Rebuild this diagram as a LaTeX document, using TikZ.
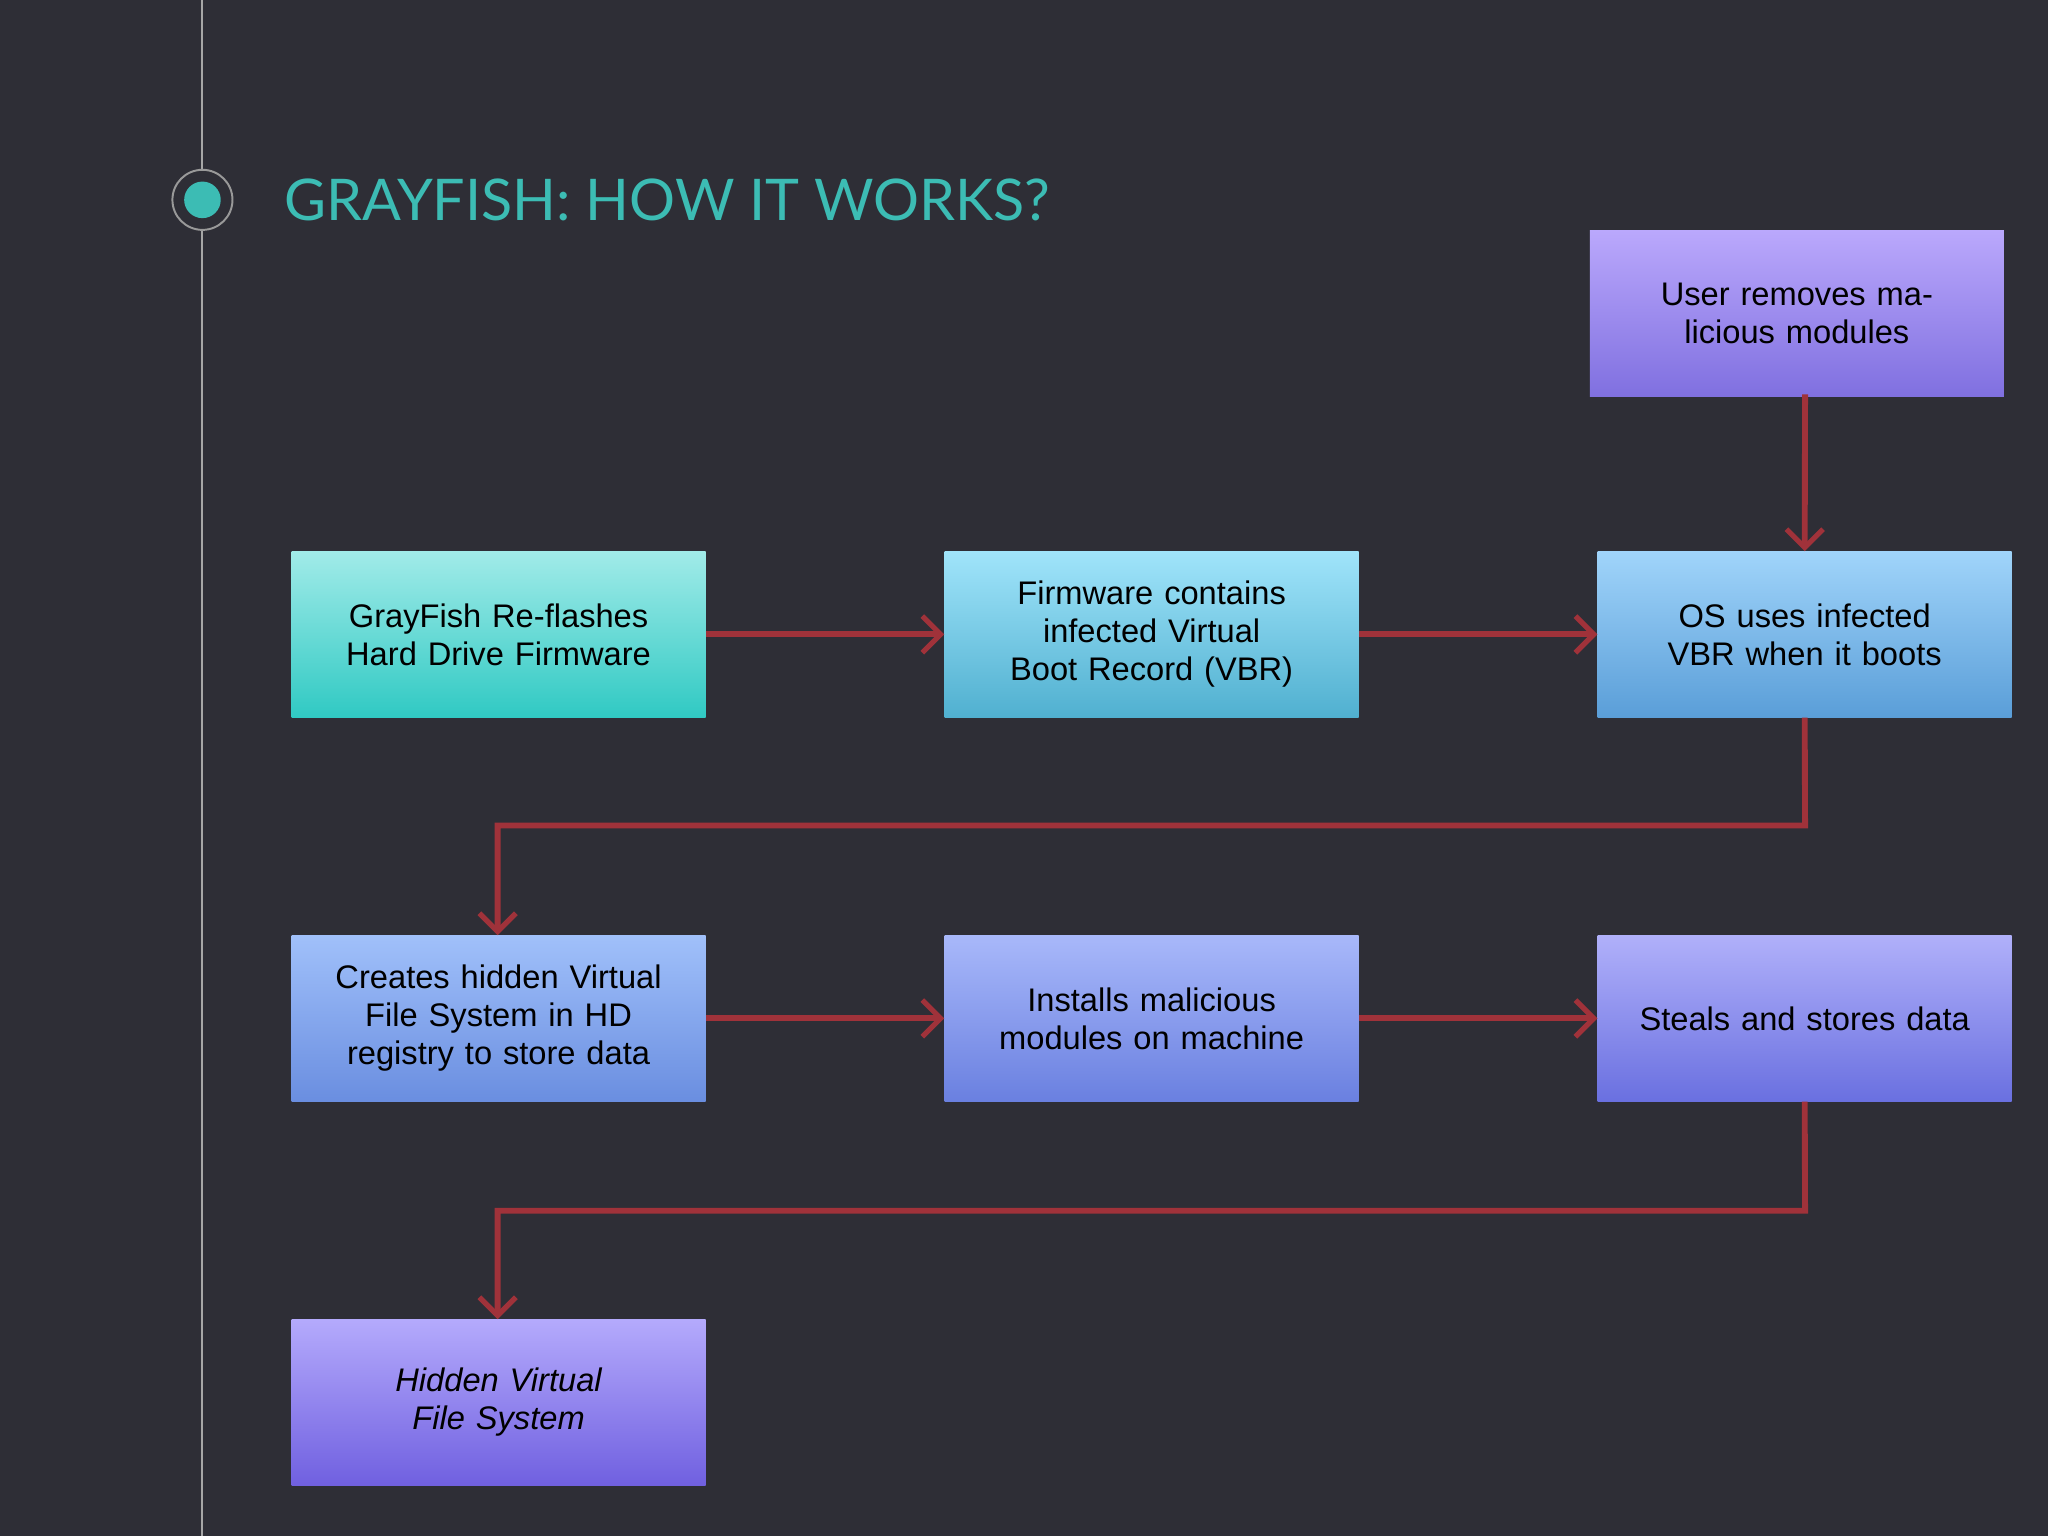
\documentclass[tikz,border=0pt]{standalone}
\usepackage{fontspec}
\setmainfont{Liberation Sans}
\newfontfamily\titlefont{Lato}
\usetikzlibrary{arrows.meta}
\definecolor{bg}{HTML}{2E2E36}
\definecolor{arr}{HTML}{A0323A}
\definecolor{teal}{HTML}{3CBCB4}
\begin{document}
\begin{tikzpicture}[x=1pt,y=-1pt,
 box/.style={draw=none,minimum width=317pt,minimum height=127pt,text width=290pt,align=center,font=\fontsize{25}{29}\selectfont,anchor=north west,inner sep=0pt},
 link/.style={draw=arr,line width=4.5pt,-{Straight Barb[length=14pt,width=28pt,line width=4pt]}}]
\fill[bg] (0,0) rectangle (1568,1176);
\useasboundingbox (0,0) rectangle (1568,1176);
\draw[gray!70,line width=1.5pt] (155,0) -- (155,1176);
\node[circle,draw=gray!80,line width=1.5pt,fill=bg,minimum size=46pt,inner sep=0pt] (dot) at (155,153) {};
\node[circle,fill=teal,minimum size=28pt,inner sep=0pt] at (dot) {};
\node[anchor=west,text=teal,font=\titlefont\fontsize{44}{50}\selectfont] (title) at (214,153) {GRAYFISH: HOW IT WORKS?};
\node[box,top color=cyan!20!white!70!teal,bottom color=teal!80!cyan] (a) at (223,422) {GrayFish Re-flashes Hard Drive Firmware};
\node[box,top color={rgb,255:red,160;green,228;blue,250},bottom color={rgb,255:red,80;green,176;blue,208}] (b) at (723,422) {Firmware contains infected Virtual Boot Record (VBR)};
\node[box,top color={rgb,255:red,160;green,212;blue,250},bottom color={rgb,255:red,90;green,158;blue,216}] (c) at (1223,422) {OS uses infected VBR when it boots};
\node[box,top color={rgb,255:red,186;green,168;blue,252},bottom color={rgb,255:red,128;green,112;blue,224}] (u) at (1217,176) {User removes malicious modules};
\node[box,top color={rgb,255:red,160;green,192;blue,250},bottom color={rgb,255:red,106;green,142;blue,224}] (d) at (223,716) {Creates hidden Virtual File System in HD registry to store data};
\node[box,top color={rgb,255:red,168;green,184;blue,250},bottom color={rgb,255:red,106;green,128;blue,224}] (e) at (723,716) {Installs malicious modules on machine};
\node[box,top color={rgb,255:red,176;green,176;blue,250},bottom color={rgb,255:red,106;green,112;blue,224}] (f) at (1223,716) {Steals and stores data};
\node[box,top color={rgb,255:red,180;green,170;blue,252},bottom color={rgb,255:red,112;green,96;blue,224},font=\fontsize{25}{29}\selectfont\itshape] (g) at (223,1010) {Hidden Virtual File System};
\draw[link] (a.east) -- (b.west);
\draw[link] (b.east) -- (c.west);
\draw[link] (e.west -| d.east) -- (e.west);
\draw[link] (e.east) -- (f.west);
\draw[link] (1382,302) -- (c.north);
\draw[link] (c.south) -- (1382,632) -- (381,632) -- (381,716);
\draw[link] (f.south) -- (1382,927) -- (381,927) -- (381,1010);
\end{tikzpicture}
\end{document}
